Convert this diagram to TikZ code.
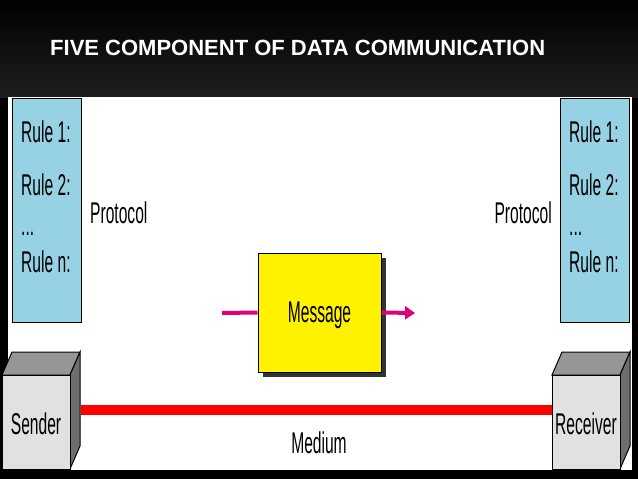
\documentclass[tikz,border=0pt]{standalone}
\usepackage{fontspec}
\usetikzlibrary{arrows.meta}
\setmainfont{Liberation Sans}
\newfontfamily\cond[FakeStretch=0.52]{Liberation Sans}
\definecolor{hdr}{RGB}{30,30,30}
\definecolor{rulebg}{RGB}{150,210,228}
\definecolor{magent}{RGB}{226,0,122}
\definecolor{boxfront}{RGB}{225,225,225}
\definecolor{boxtop}{RGB}{150,150,150}
\definecolor{boxside}{RGB}{110,110,110}
\tikzset{
 lbl/.style={font=\cond\fontsize{30}{30}\selectfont, inner sep=0pt},
 rulebox/.style={draw=black, line width=1pt, fill=rulebg, minimum width=69pt, minimum height=224pt, inner sep=0pt},
 msg/.style={draw=black, line width=1pt, fill=yellow, minimum width=123pt, minimum height=119pt, inner sep=0pt},
 arr/.style={magent, line width=4pt},
}
\begin{document}
\begin{tikzpicture}[x=1pt,y=-1pt]
\useasboundingbox (0,0) rectangle (638,479);
\fill[black] (0,0) rectangle (638,479);
\shade[top color=black, bottom color=hdr] (0,0) rectangle (638,97);
\fill[white] (8,97) rectangle (632,470);
\node[anchor=west, text=white, font=\bfseries\fontsize{22}{22}\selectfont, inner sep=0pt] (title) at (50,48) {FIVE COMPONENT OF DATA COMMUNICATION};
% rule boxes
\node[rulebox] (lrules) at (46.5,210) {};
\node[rulebox] (rrules) at (594.5,210) {};
\foreach \b/\x in {l/21,r/569}{
 \node[lbl, anchor=west] (\b r1) at (\x,132) {Rule 1:};
 \node[lbl, anchor=west] (\b r2) at (\x,185) {Rule 2:};
 \node[lbl, anchor=west] (\b rd) at (\x,234) {...};
 \node[lbl, anchor=west] (\b rn) at (\x,262) {Rule n:};
}
\node[lbl, anchor=west] (lprot) at (90,213) {Protocol};
\node[lbl, anchor=east] (rprot) at (552,213) {Protocol};
% message
\fill[black!80] (263,258) rectangle (386,377);
\node[msg] (msg) at (319.5,312.5) {};
\node[lbl] (msgt) at (319.5,315) {Message};
\coordinate (ain) at (222,313);
\coordinate (aout) at (415,313);
\draw[arr] (ain) -- (msg.west);
\draw[arr, -{Triangle[length=10pt,width=13pt]}] (msg.east) -- (aout);
% sender/receiver
\foreach \n/\x/\t in {snd/2/Sender,rcv/552/Receiver}{
 \fill[boxtop, draw=black, line width=1pt] (\x,375) -- (\x+10,352) -- (\x+78,352) -- (\x+68,375) -- cycle;
 \fill[boxside, draw=black, line width=1pt] (\x+68,375) -- (\x+78,352) -- (\x+78,446) -- (\x+68,469) -- cycle;
 \node[draw=black, line width=1pt, fill=boxfront, minimum width=68pt, minimum height=94pt, inner sep=0pt] (\n) at (\x+34,422) {};
 \node[lbl] (\n t) at (\x+34,424) {\t};
}
\draw[red, line width=10pt] ([xshift=10pt,yshift=12pt]snd.east) -- ([yshift=12pt]rcv.west);
\node[lbl] (medium) at (319,443) {Medium};
\end{tikzpicture}
\end{document}
